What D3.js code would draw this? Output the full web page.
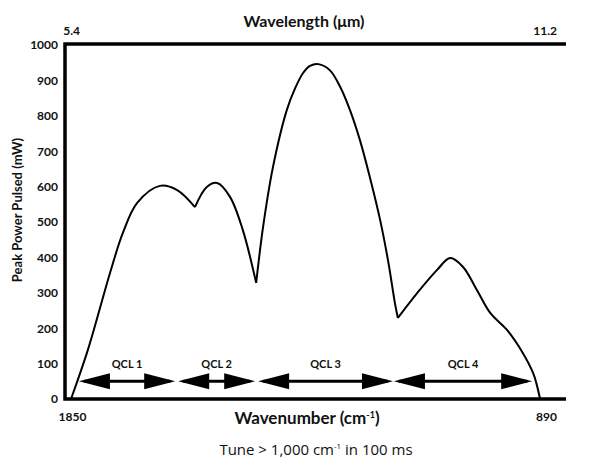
<!DOCTYPE html>
<html>
<head>
<meta charset="utf-8">
<script src="https://cdn.jsdelivr.net/npm/d3@7"></script>
<style>
  body { margin: 0; background: #fff; }
  text { font-family: Lato, "Open Sans", sans-serif; fill: #111; }
  .bold { font-weight: 700; }
</style>
</head>
<body>
<div id="chart"></div>
<script>
// Tuning curve (wavenumber in cm-1, power in mW)
const wavenumber = [1852, 1818, 1773, 1747, 1718, 1672, 1637, 1601,
                    1577, 1556, 1530, 1504, 1477,
                    1463, 1443, 1415, 1398, 1382, 1368, 1351, 1328, 1307, 1287, 1267, 1247, 1226, 1209, 1196, 1190,
                    1151, 1111, 1084, 1058, 1030, 1003, 969, 937, 916, 909, 902];
const power = [0, 138, 356, 469, 554, 602, 590, 542,
               599, 610, 571, 477, 328,
               486, 655, 816, 878, 921, 941, 946, 929, 882, 816, 732, 628, 506, 384, 271, 229,
               299, 364, 398, 373, 308, 243, 195, 130, 73, 42, 0];
// the curve has sharp corners where one laser hands over to the next
const cusps = [1601, 1477, 1190];

const lasers = ['QCL 1', 'QCL 2', 'QCL 3', 'QCL 4'];
const laserFrom = [1836, 1635, 1473, 1198];
const laserTo = [1641, 1479, 1200, 918];

const yTicks = [0, 100, 200, 300, 400, 500, 600, 700, 800, 900, 1000];
const xTicks = [1850, 890];
const wavelengthTicks = [5.4, 11.2];

const W = 612, H = 463;
const frame = {left: 65, right: 566, top: 44, bottom: 399};

const svg = d3.select('#chart').append('svg')
    .attr('width', W)
    .attr('height', H);

const x = d3.scaleLinear().domain([1850, 890]).range([72, 546]);
const y = d3.scaleLinear().domain([0, 1000]).range([frame.bottom, 45]);

// split the curve into one piece per laser
const pts = wavenumber.map((w, i) => ({w: w, p: power[i]}));
const segments = [];
let cur = [];
pts.forEach(d => {
    cur.push(d);
    if (cusps.includes(d.w)) {
        segments.push(cur);
        cur = [d];
    }
});
segments.push(cur);

const line = d3.line()
    .x(d => x(d.w))
    .y(d => y(d.p))
    .curve(d3.curveCatmullRom.alpha(0.5));

svg.append('g').selectAll('path')
    .data(segments)
    .join('path')
    .attr('d', line)
    .attr('fill', 'none')
    .attr('stroke', '#000')
    .attr('stroke-width', 2)
    .attr('stroke-linejoin', 'miter');

// frame
svg.append('path')
    .attr('d', `M${frame.right},${frame.top}H${frame.left}V${frame.bottom}H${frame.right}`)
    .attr('fill', 'none')
    .attr('stroke', '#000')
    .attr('stroke-width', 3.5)
    .attr('stroke-linejoin', 'miter');

// y axis
const yAxis = svg.append('g')
    .attr('transform', `translate(${frame.left},0)`)
    .call(d3.axisLeft(y).tickValues(yTicks).tickSize(0).tickPadding(7).tickFormat(d3.format('d')));
yAxis.select('.domain').remove();
yAxis.selectAll('text')
    .attr('class', 'bold')
    .style('font-family', 'Lato, sans-serif')
    .style('font-size', '12px')
    .attr('fill', '#111');

// bottom axis (wavenumber)
const xAxis = svg.append('g')
    .attr('transform', `translate(0,${frame.bottom})`)
    .call(d3.axisBottom(x).tickValues(xTicks).tickSize(0).tickPadding(13).tickFormat(d3.format('d')));
xAxis.select('.domain').remove();
xAxis.selectAll('text')
    .attr('class', 'bold')
    .style('font-family', 'Lato, sans-serif')
    .style('font-size', '12px')
    .attr('fill', '#111');

// top axis (wavelength), same positions through 1e4 / lambda
const xTop = d3.scaleLinear()
    .domain(wavelengthTicks)
    .range(wavelengthTicks.map(l => x(1e4 / l)));
const topAxis = svg.append('g')
    .attr('transform', `translate(0,${frame.top})`)
    .call(d3.axisTop(xTop).tickValues(wavelengthTicks).tickSize(0).tickPadding(9).tickFormat(d3.format('.1f')));
topAxis.select('.domain').remove();
topAxis.selectAll('text')
    .attr('class', 'bold')
    .style('font-family', 'Lato, sans-serif')
    .style('font-size', '12px')
    .attr('fill', '#111');

// axis titles
svg.append('text')
    .attr('class', 'bold')
    .attr('x', 304).attr('y', 27)
    .attr('text-anchor', 'middle')
    .style('font-size', '16px')
    .text('Wavelength (μm)');

const xt = svg.append('text')
    .attr('class', 'bold')
    .attr('x', 307).attr('y', 424)
    .attr('text-anchor', 'middle')
    .style('font-size', '17px');
xt.append('tspan').text('Wavenumber (cm');
xt.append('tspan').attr('dy', -6).style('font-size', '9px').text('-1');
xt.append('tspan').attr('dy', 6).text(')');

svg.append('text')
    .attr('class', 'bold')
    .attr('transform', 'translate(22,210) rotate(-90)')
    .attr('text-anchor', 'middle')
    .style('font-size', '13px')
    .text('Peak Power Pulsed (mW)');

// caption
const cap = svg.append('text')
    .attr('x', 316).attr('y', 455)
    .attr('text-anchor', 'middle')
    .style('font-family', '"Open Sans", sans-serif')
    .style('font-size', '15px')
    .attr('fill', '#231f20');
cap.append('tspan').text('Tune > 1,000 cm');
cap.append('tspan').attr('dy', -6).style('font-size', '8px').text('-1');
cap.append('tspan').attr('dy', 6).text(' in 100 ms');

// laser ranges: double headed arrows
const arrowY = y(50);
const headLen = 31, headHalf = 8;
const arrows = svg.append('g');
lasers.forEach((name, i) => {
    const x0 = x(laserFrom[i]), x1 = x(laserTo[i]);
    arrows.append('line')
        .attr('x1', x0 + 5).attr('x2', x1 - 5)
        .attr('y1', arrowY).attr('y2', arrowY)
        .attr('stroke', '#000')
        .attr('stroke-width', 3);
    arrows.append('path')
        .attr('d', `M${x0},${arrowY}L${x0 + headLen},${arrowY - headHalf}L${x0 + headLen},${arrowY + headHalf}Z`)
        .attr('fill', '#000');
    arrows.append('path')
        .attr('d', `M${x1},${arrowY}L${x1 - headLen},${arrowY - headHalf}L${x1 - headLen},${arrowY + headHalf}Z`)
        .attr('fill', '#000');
    arrows.append('text')
        .attr('class', 'bold')
        .attr('x', (x0 + x1) / 2)
        .attr('y', y(100) + 4)
        .attr('text-anchor', 'middle')
        .style('font-size', '11px')
        .text(name);
});
</script>
</body>
</html>
